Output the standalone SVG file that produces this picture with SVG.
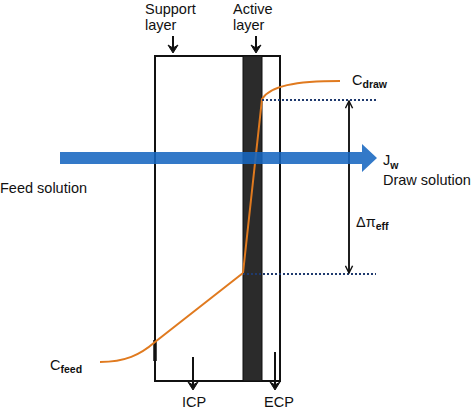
<svg xmlns="http://www.w3.org/2000/svg" width="474" height="409" viewBox="0 0 474 409">
<style>
text{font-family:"Liberation Sans",Arial,sans-serif;font-size:14.5px;fill:#111}
.sub{font-size:10.5px;font-weight:bold}
.ln{stroke:#111;stroke-width:2;fill:none}
.ar{stroke:#111;stroke-width:2;fill:none}
.hd{fill:#111;stroke:#111;stroke-width:1;stroke-linejoin:miter}
.dot{stroke:#1f3a6e;stroke-width:2;stroke-dasharray:2 2;fill:none}
</style>
<defs>
<marker id="chev" viewBox="0 0 10 10" refX="9" refY="5" markerWidth="9" markerHeight="9" orient="auto" markerUnits="userSpaceOnUse">
<path d="M1,1 L9,5 L1,9" fill="none" stroke="#111" stroke-width="1.6"/>
</marker>
</defs>
<g id="membrane">
<rect x="155" y="56" width="125" height="325" class="ln"/>
<rect x="243" y="56" width="19" height="325" fill="#2b2b2b" stroke="#111" stroke-width="1"/>
<line x1="155" y1="340" x2="155" y2="361" stroke="#111" stroke-width="3.5"/>
</g>
<g id="profile">
<path d="M100,362 C125,362 140,355 155,342 L243,273 L262,99 C270,86 295,81 340,81" fill="none" stroke="#e07a1f" stroke-width="2"/>
</g>
<g id="connectors">
<line x1="262" y1="100" x2="376" y2="100" class="dot"/>
<line x1="243" y1="274" x2="376" y2="274" class="dot"/>
<line x1="349" y1="273" x2="349" y2="101" stroke="#111" stroke-width="1.5" marker-end="url(#chev)"/>
<line x1="349" y1="101" x2="349" y2="273" stroke="#111" stroke-width="1.5" marker-end="url(#chev)"/>
<line x1="173" y1="36" x2="173" y2="50" class="ar"/>
<path class="hd" d="M168,45 L173,53 L178,45 L173,48 Z"/>
<line x1="256" y1="36" x2="256" y2="50" class="ar"/>
<path class="hd" d="M251,45 L256,53 L261,45 L256,48 Z"/>
<line x1="193" y1="357" x2="193" y2="387" class="ar"/>
<path class="hd" d="M188,382 L193,390 L198,382 L193,385 Z"/>
<line x1="275" y1="352" x2="275" y2="387" class="ar"/>
<path class="hd" d="M270,382 L275,390 L280,382 L275,385 Z"/>
</g>
<g id="flux" opacity="0.88">
<path d="M60,152 L362,152 L362,144 L377,158 L362,172 L362,164 L60,164 Z" fill="#1767c0"/>
</g>
<g id="labels">
<text x="145" y="14">Support</text>
<text x="145" y="30">layer</text>
<text x="233" y="14">Active</text>
<text x="233" y="30">layer</text>
<text x="352" y="85">C<tspan class="sub" dy="3">draw</tspan></text>
<text x="383" y="165">J<tspan class="sub" dy="4">w</tspan></text>
<text x="383" y="185">Draw solution</text>
<text x="0" y="193">Feed solution</text>
<text x="356" y="227">Δπ<tspan class="sub" dy="3">eff</tspan></text>
<text x="50" y="370">C<tspan class="sub" dy="3">feed</tspan></text>
<text x="182" y="407">ICP</text>
<text x="264" y="407">ECP</text>
</g>
</svg>
